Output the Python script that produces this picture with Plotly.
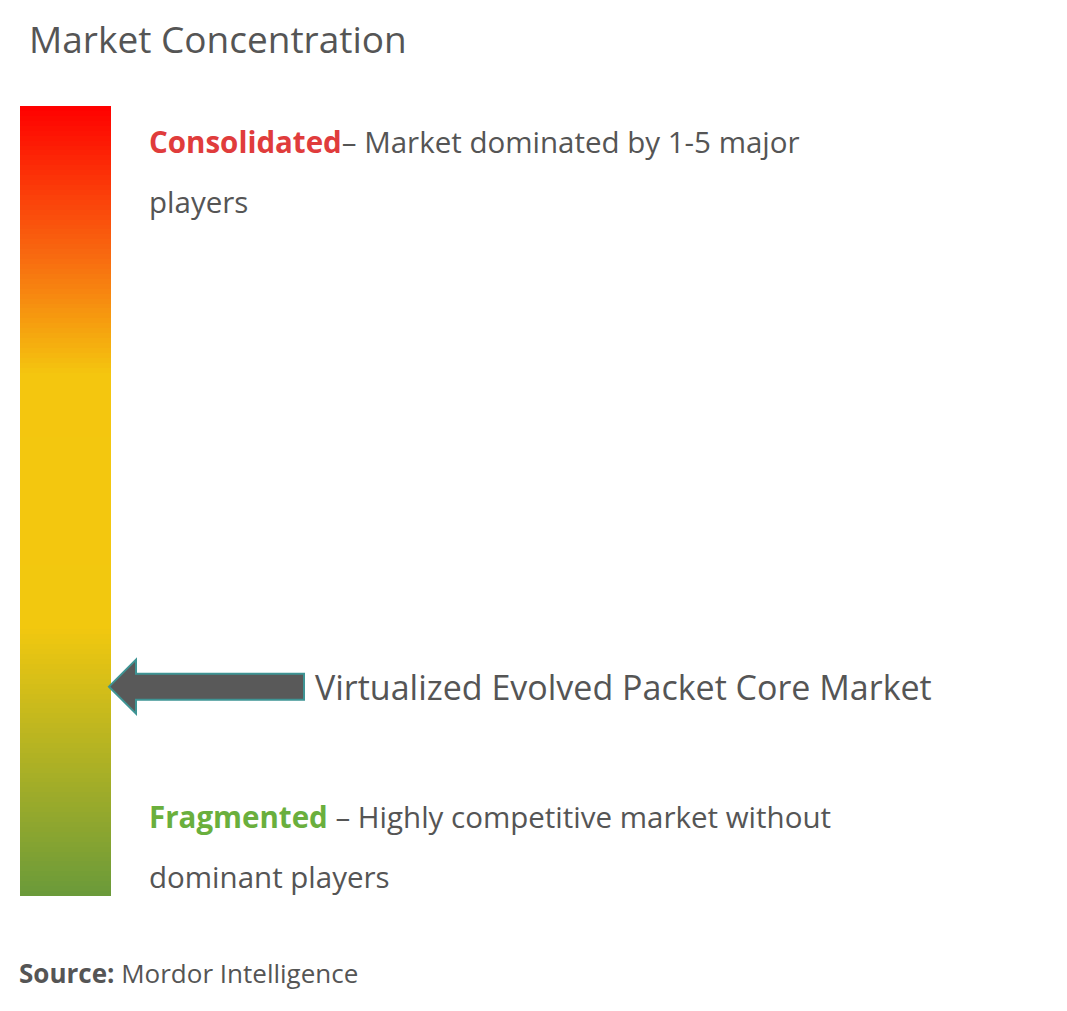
import numpy as np
import plotly.graph_objects as go

W, H = 1067, 1011

# gradient stops for the concentration bar (0 = top, 1 = bottom)
stop_pos = [0.0, 0.19, 0.34, 0.66, 1.0]
stop_col = ["#FF0000", "#F86A10", "#F4C60F", "#F2C80F", "#6A9A3A"]
title = "Market Concentration"
market = "Virtualized Evolved Packet Core Market"
market_level = 0.735  # share of bar height from top where the arrow points

# page offset compensation
OX, OY = -9, -10
bar_x = [21 + OX, 112 + OX]
bar_top, bar_bot = 108 + OY, 898 + OY

fig = go.Figure()
n = 160
edges = np.linspace(bar_top, bar_bot, n + 1)
centers = (np.arange(n) + 0.5) / n
fig.add_trace(go.Heatmap(
    x=bar_x, y=edges, z=[[c] for c in centers],
    colorscale=[[p, c] for p, c in zip(stop_pos, stop_col)],
    zmin=0, zmax=1, showscale=False, hoverinfo="skip",
))

ay = bar_top + market_level * (bar_bot - bar_top)
tip = 110 + OX
hx, ex = 137 + OX, 305 + OX
path = (f"M {tip},{ay} L {hx},{ay-27} L {hx},{ay-13} L {ex},{ay-13} "
        f"L {ex},{ay+13} L {hx},{ay+13} L {hx},{ay+27} Z")
fig.add_shape(type="path", path=path, xref="x", yref="y",
              fillcolor="#595959", line=dict(color="#3E9494", width=2))

font = "Open Sans, sans-serif"
def txt(x, y, s, size, color="#555555"):
    fig.add_annotation(x=x + OX, y=y + OY, text=s, showarrow=False, xanchor="left",
                       yanchor="middle", font=dict(family=font, size=size, color=color))

txt(28, 40, title, 37)
txt(148, 143, "<b><span style='color:#E03C3C'>Consolidated</span></b>– Market dominated by 1-5 major", 29.5)
txt(148, 203, "players", 29.5)
txt(314, ay - OY, market, 34)
txt(148, 818, "<b><span style='color:#6AAF3D'>Fragmented</span></b> – Highly competitive market without", 29.5)
txt(148, 878, "dominant players", 29.5)
txt(18, 975, "<b>Source:</b> Mordor Intelligence", 26)

fig.update_xaxes(range=[0, W], visible=False, domain=[0, 1])
fig.update_yaxes(range=[H, 0], visible=False, domain=[0, 1])
fig.update_layout(width=W, height=H, margin=dict(l=0, r=0, t=0, b=0),
                  plot_bgcolor="white", paper_bgcolor="white", showlegend=False)
fig.write_html("out.html")
